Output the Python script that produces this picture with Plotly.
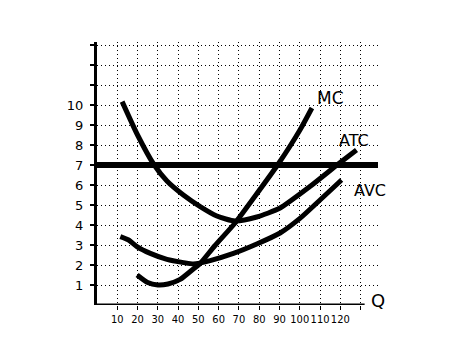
import plotly.graph_objects as go

# Data (Q, $)
mc_q = [19.8, 25, 30, 35, 41, 47.5, 50.9, 58, 68.1, 78, 89.4, 100.1, 106]
mc_p = [1.5, 1.12, 1.0, 1.05, 1.28, 1.8, 2.08, 2.95, 4.1, 5.45, 7.05, 8.75, 9.85]

atc_q = [12.4, 20, 27.9, 34.5, 42.6, 50.9, 59.1, 68.1, 78.8, 90.3, 105, 119, 128]
atc_p = [10.17, 8.5, 7.05, 6.2, 5.5, 4.92, 4.45, 4.2, 4.4, 4.85, 5.92, 7.05, 7.75]

avc_q = [11.5, 15.6, 19.7, 26.3, 34.5, 42.7, 47.6, 55.8, 67.3, 78.8, 90.3, 100.1, 110, 120.6]
avc_p = [3.42, 3.25, 2.92, 2.58, 2.28, 2.12, 2.05, 2.22, 2.58, 3.05, 3.6, 4.33, 5.25, 6.25]

price_q = [0, 138.6]
price_p = [7, 7]

x_ticks = [10, 20, 30, 40, 50, 60, 70, 80, 90, 100, 110, 120, 130]
x_labels = ["10", "20", "30", "40", "50", "60", "70", "80", "90", "100", "110", "120", ""]
y_ticks = [1, 2, 3, 4, 5, 6, 7, 8, 9, 10, 11, 12, 13]
y_labels = ["1", "2", "3", "4", "5", "6", "7", "8", "9", "10", "", "", ""]

FONT = "DejaVu Sans"
NARROW = "Liberation Sans Narrow, DejaVu Sans Condensed, Liberation Sans"

fig = go.Figure()
for q, p in [(mc_q, mc_p), (atc_q, atc_p), (avc_q, avc_p)]:
    fig.add_trace(go.Scatter(x=q, y=p, mode="lines", line=dict(color="black", width=5, shape="spline", smoothing=0.6),
                             showlegend=False, hoverinfo="skip"))
fig.add_trace(go.Scatter(x=price_q, y=price_p, mode="lines", line=dict(color="black", width=6),
                         showlegend=False, hoverinfo="skip"))

labels = [
    ("MC", 115, 10.35, 17),
    ("ATC", 127, 8.25, 16),
    ("P=AR", 151, 7.65, 15),
    ("=MR", 154, 6.75, 15),
    ("AVC", 134.6, 5.75, 16),
    ("$", -15.6, 12.75, 20),
    ("Q", 138.6, 0.25, 18),
    ("0", -6.7, -0.4, 13),
]
for t, x, y, s in labels:
    fig.add_annotation(x=x, y=y, xref="x", yref="y", text=t, showarrow=False,
                       font=dict(family=FONT, size=s, color="black"))

fig.add_shape(type="line", xref="x", yref="y", x0=0, x1=132, y0=0, y1=0,
              line=dict(color="black", width=3))

fig.update_xaxes(range=[0, 138.6], tickvals=x_ticks, ticktext=x_labels, ticks="outside", ticklen=4,
                 tickcolor="black", tickwidth=1, showline=False, zeroline=False, tickangle=0,
                 showgrid=True, gridcolor="black", gridwidth=1, griddash="1px,3px",
                 tickfont=dict(family=NARROW, size=11, color="black"), ticklabelstandoff=0)
fig.update_yaxes(range=[0, 13.15], tickvals=y_ticks, ticktext=y_labels, ticks="outside", ticklen=4,
                 tickcolor="black", tickwidth=2, showline=True, linecolor="black", linewidth=3,
                 zeroline=False, showgrid=True, gridcolor="black", gridwidth=1, griddash="1px,3px",
                 tickfont=dict(family=FONT, size=13, color="black"), ticklabelstandoff=4)
fig.update_layout(width=474, height=347, margin=dict(l=97, r=96, t=42, b=42),
                  paper_bgcolor="white", plot_bgcolor="white")

fig.write_html("out.html")
